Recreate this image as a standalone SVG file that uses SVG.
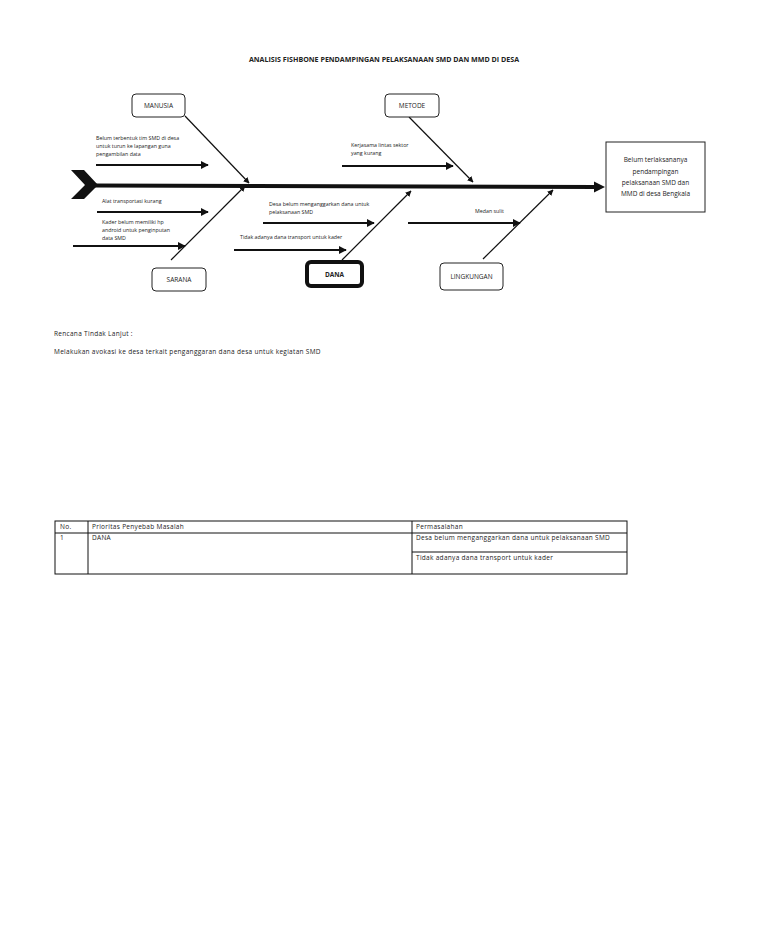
<svg xmlns="http://www.w3.org/2000/svg" width="768" height="932" viewBox="0 0 768 932">
<style>
text{font-family:"Open Sans","Liberation Sans",sans-serif;fill:#222}
.t{font-size:5.3px}
.h{font-size:7.1px;font-weight:bold}
.b{fill:#fff;stroke:#222;stroke-width:1}
.lbl{font-size:6.5px;text-anchor:middle}
.bone{stroke:#111;stroke-width:1.2;fill:none}
.cause{stroke:#111;stroke-width:2;fill:none}
.tbl{fill:none;stroke:#111;stroke-width:1}
.tt{font-size:6.5px;letter-spacing:0.3px}
</style>
<defs>
<marker id="ah" viewBox="0 0 10 10" refX="9" refY="5" markerWidth="6" markerHeight="6" markerUnits="userSpaceOnUse" orient="auto"><path d="M0,0 L10,5 L0,10 z" fill="#111"/></marker>
<marker id="ah2" viewBox="0 0 10 10" refX="9" refY="5" markerWidth="4" markerHeight="4" orient="auto"><path d="M0,0 L10,5 L0,10 z" fill="#111"/></marker>
</defs>
<rect width="768" height="932" fill="#fff"/>
<text x="384" y="62" class="h" text-anchor="middle">ANALISIS FISHBONE PENDAMPINGAN PELAKSANAAN SMD DAN MMD DI DESA</text>

<g id="connectors">
<polygon points="71,170 84,170 98,185 84,199 71,199 85,185" fill="#111"/>
<line x1="95" y1="185.5" x2="596" y2="187" stroke="#111" stroke-width="4"/>
<polygon points="594,181.5 605,187 594,192.5" fill="#111"/>
<line class="bone" x1="185" y1="116" x2="249" y2="183" marker-end="url(#ah)"/>
<line class="bone" x1="409" y1="117" x2="473" y2="182" marker-end="url(#ah)"/>
<line class="bone" x1="171" y1="260" x2="245" y2="186" marker-end="url(#ah)"/>
<line class="bone" x1="342" y1="260" x2="411" y2="191" marker-end="url(#ah)"/>
<line class="bone" x1="483" y1="259" x2="553" y2="190" marker-end="url(#ah)"/>
<line class="cause" x1="96" y1="165" x2="208" y2="165" marker-end="url(#ah2)"/>
<line class="cause" x1="97" y1="212" x2="208" y2="212" marker-end="url(#ah2)"/>
<line class="cause" x1="73" y1="246" x2="185" y2="246" marker-end="url(#ah2)"/>
<line class="cause" x1="342" y1="166" x2="453" y2="166" marker-end="url(#ah2)"/>
<line class="cause" x1="263" y1="223" x2="374" y2="223" marker-end="url(#ah2)"/>
<line class="cause" x1="234" y1="250" x2="346" y2="250" marker-end="url(#ah2)"/>
<line class="cause" x1="408" y1="223" x2="520" y2="223" marker-end="url(#ah2)"/>
</g>

<g id="causes-text">
<text class="t" x="96" y="140">Belum terbentuk tim SMD di desa</text>
<text class="t" x="96" y="148">untuk turun ke lapangan guna</text>
<text class="t" x="96" y="156">pengambilan data</text>
<text class="t" x="102" y="203">Alat transportasi kurang</text>
<text class="t" x="102" y="224">Kader belum memiliki hp</text>
<text class="t" x="102" y="232">android untuk penginputan</text>
<text class="t" x="102" y="240">data SMD</text>
<text class="t" x="351" y="147">Kerjasama lintas sektor</text>
<text class="t" x="351" y="155">yang kurang</text>
<text class="t" x="269" y="206">Desa belum menganggarkan dana untuk</text>
<text class="t" x="269" y="214">pelaksanaan SMD</text>
<text class="t" x="240" y="239">Tidak adanya dana transport untuk kader</text>
<text class="t" x="475" y="213">Medan sulit</text>
</g>

<g id="manusia"><rect class="b" x="132" y="94" width="53" height="23" rx="4"/><text class="lbl" x="158.5" y="108">MANUSIA</text></g>
<g id="metode"><rect class="b" x="385" y="94" width="54" height="23" rx="4"/><text class="lbl" x="412" y="108">METODE</text></g>
<g id="sarana"><rect class="b" x="152" y="268" width="54" height="23" rx="4"/><text class="lbl" x="179" y="282">SARANA</text></g>
<g id="dana"><rect x="307" y="262" width="55" height="24" rx="4" fill="#fff" stroke="#111" stroke-width="4"/><text class="lbl" x="334.5" y="276.5" style="font-weight:bold">DANA</text></g>
<g id="lingkungan"><rect class="b" x="440" y="263" width="63" height="27" rx="4"/><text class="lbl" x="471.5" y="279">LINGKUNGAN</text></g>
<g id="effect"><rect class="b" x="606" y="142" width="99" height="70"/>
<text class="lbl" x="655.5" y="162">Belum terlaksananya</text>
<text class="lbl" x="655.5" y="174">pendampingan</text>
<text class="lbl" x="655.5" y="185">pelaksanaan SMD dan</text>
<text class="lbl" x="655.5" y="196">MMD di desa Bengkala</text>
</g>

<text class="tt" x="54" y="336">Rencana Tindak Lanjut :</text>
<text class="tt" x="54" y="354">Melakukan avokasi ke desa terkait penganggaran dana desa  untuk kegiatan SMD</text>

<g id="table">
<rect class="tbl" x="55" y="521" width="572" height="53"/>
<line class="tbl" x1="55" y1="533" x2="627" y2="533"/>
<line class="tbl" x1="88" y1="521" x2="88" y2="574"/>
<line class="tbl" x1="412" y1="521" x2="412" y2="574"/>
<line class="tbl" x1="412" y1="552" x2="627" y2="552"/>
<text class="tt" x="60" y="529">No.</text>
<text class="tt" x="92" y="529">Prioritas Penyebab Masalah</text>
<text class="tt" x="416" y="529">Permasalahan</text>
<text class="tt" x="60" y="540">1</text>
<text class="tt" x="92" y="540">DANA</text>
<text class="tt" x="416" y="540">Desa belum menganggarkan dana untuk pelaksanaan SMD</text>
<text class="tt" x="416" y="560">Tidak adanya dana transport untuk kader</text>
</g>
</svg>
